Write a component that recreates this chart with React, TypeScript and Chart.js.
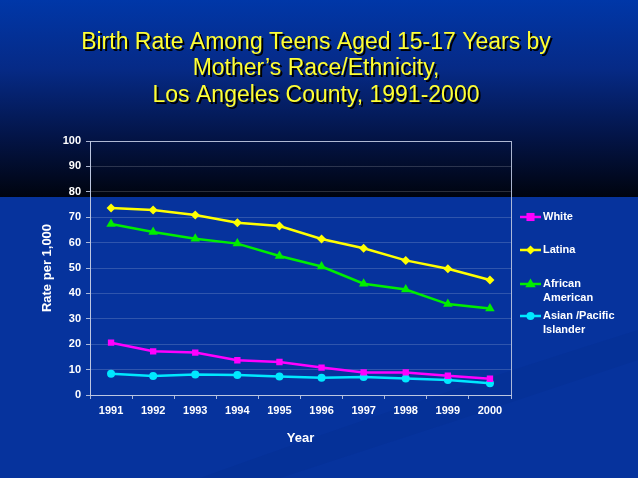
import { useEffect, useRef } from "react";
import { Chart, registerables } from "chart.js";

Chart.register(...registerables);

const years = ["1991", "1992", "1993", "1994", "1995", "1996", "1997", "1998", "1999", "2000"];
const whiteRates = [20.6, 17.2, 16.7, 13.7, 13.0, 10.8, 8.9, 8.9, 7.6, 6.4];
const latinaRates = [73.6, 72.8, 70.9, 67.8, 66.5, 61.4, 57.8, 53.0, 49.7, 45.3];
const africanAmericanRates = [67.3, 64.2, 61.5, 59.6, 54.7, 50.6, 43.8, 41.5, 35.8, 34.1];
const asianRates = [8.4, 7.5, 8.1, 7.9, 7.3, 6.8, 7.1, 6.5, 5.9, 4.6];

const titleLines = [
  "Birth Rate Among Teens Aged 15-17 Years by",
  "Mother\u2019s Race/Ethnicity,",
  "Los Angeles County, 1991-2000",
];
const legendLabels = [["White"], ["Latina"], ["African", "American"], ["Asian /Pacific", "Islander"]];

const FONT = "'Liberation Sans', Arial, Helvetica, sans-serif";
const AXIS = "rgba(190,200,225,0.9)";

const bgPlugin = {
  id: "bg",
  beforeDraw(chart: any) {
    const { ctx, width, height } = chart;
    ctx.save();
    const split = 197;
    const g = ctx.createLinearGradient(0, 0, 0, split);
    g.addColorStop(0, "#0037a8");
    g.addColorStop(0.35, "#062a86");
    g.addColorStop(0.7, "#031446");
    g.addColorStop(1, "#00040f");
    ctx.fillStyle = g;
    ctx.fillRect(0, 0, width, split);
    ctx.fillStyle = "#06339d";
    ctx.fillRect(0, split, width, height - split);
    // faint swoosh
    ctx.beginPath();
    ctx.moveTo(200, height);
    ctx.quadraticCurveTo(430, 395, width, 330);
    ctx.lineTo(width, 360);
    ctx.quadraticCurveTo(460, 420, 280, height);
    ctx.closePath();
    ctx.fillStyle = "rgba(0,25,100,0.08)";
    ctx.fill();
    ctx.restore();
  },
  beforeDatasetsDraw(chart: any) {
    const { ctx, chartArea } = chart;
    ctx.save();
    ctx.strokeStyle = AXIS;
    ctx.lineWidth = 1;
    ctx.strokeRect(
      Math.round(chartArea.left) + 0.5,
      Math.round(chartArea.top) + 0.5,
      Math.round(chartArea.right - chartArea.left),
      Math.round(chartArea.bottom - chartArea.top)
    );
    ctx.restore();
  },
  afterDraw(chart: any) {
    const { ctx } = chart;
    ctx.save();
    // Title
    ctx.font = `23px ${FONT}`;
    ctx.textAlign = "center";
    ctx.textBaseline = "middle";
    const ys = [43, 69, 96];
    titleLines.forEach((t, i) => {
      ctx.fillStyle = "#000000";
      ctx.fillText(t, 316 + 2, ys[i] + 2);
      ctx.fillStyle = "#ffff33";
      ctx.fillText(t, 316, ys[i]);
    });
    // Legend
    const legendY = [217, 250, 284, 316];
    chart.data.datasets.forEach((ds: any, i: number) => {
      const y = legendY[i];
      ctx.strokeStyle = ds.borderColor;
      ctx.lineWidth = 2.5;
      ctx.beginPath();
      ctx.moveTo(520, y);
      ctx.lineTo(541, y);
      ctx.stroke();
      drawMarker(ctx, ds.pointStyle, 530.5, y, ds.pointRadius, ds.borderColor);
      ctx.fillStyle = "#ffffff";
      ctx.font = `bold 11px ${FONT}`;
      ctx.textAlign = "left";
      ctx.textBaseline = "middle";
      legendLabels[i].forEach((l, j) => ctx.fillText(l, 543, y + j * 13.5));
    });
    ctx.restore();
  },
};

function drawMarker(ctx: CanvasRenderingContext2D, style: string, x: number, y: number, r: number, color: string) {
  ctx.fillStyle = color;
  ctx.beginPath();
  if (style === "rect") {
    ctx.rect(x - r * 0.9, y - r * 0.9, r * 1.8, r * 1.8);
  } else if (style === "rectRot") {
    ctx.moveTo(x, y - r);
    ctx.lineTo(x + r, y);
    ctx.lineTo(x, y + r);
    ctx.lineTo(x - r, y);
    ctx.closePath();
  } else if (style === "triangle") {
    ctx.moveTo(x, y - r);
    ctx.lineTo(x + r * 0.95, y + r * 0.6);
    ctx.lineTo(x - r * 0.95, y + r * 0.6);
    ctx.closePath();
  } else {
    ctx.arc(x, y, r, 0, Math.PI * 2);
  }
  ctx.fill();
}

export default function App() {
  const ref = useRef<HTMLCanvasElement | null>(null);
  useEffect(() => {
    if (!ref.current) return;
    const mk = (label: string, data: number[], color: string, pointStyle: string, r: number) => ({
      label,
      data,
      borderColor: color,
      backgroundColor: color,
      pointBackgroundColor: color,
      pointBorderColor: color,
      pointStyle,
      pointRadius: r,
      pointBorderWidth: 0,
      borderWidth: 2.5,
      tension: 0,
    });
    const chart = new Chart(ref.current, {
      type: "line",
      data: {
        labels: years,
        datasets: [
          mk("White", whiteRates, "#ff00ff", "rect", 4.5),
          mk("Latina", latinaRates, "#ffff00", "rectRot", 4.5),
          mk("African American", africanAmericanRates, "#00ee00", "triangle", 5.5),
          mk("Asian /Pacific Islander", asianRates, "#00e8ff", "circle", 4),
        ] as any,
      },
      options: {
        animation: false,
        responsive: true,
        maintainAspectRatio: false,
        devicePixelRatio: 1,
        layout: { padding: { left: 0, right: 127, top: 141, bottom: 0 } },
        plugins: { legend: { display: false }, title: { display: false }, tooltip: { enabled: false } },
        scales: {
          x: {
            type: "category",
            offset: true,
            grid: { display: true, drawOnChartArea: false, drawTicks: true, tickLength: 4, offset: true, color: AXIS },
            border: { color: AXIS, width: 1 },
            ticks: { color: "#ffffff", font: { family: FONT, size: 11, weight: "bold" }, padding: 5, maxRotation: 0 },
            title: {
              display: true,
              text: "Year",
              color: "#ffffff",
              font: { family: FONT, size: 13, weight: "bold" },
              padding: { top: 0, bottom: 32 },
            },
            afterFit: (s: any) => {
              s.height = 83;
            },
          },
          y: {
            min: 0,
            max: 100,
            ticks: { stepSize: 10, color: "#ffffff", font: { family: FONT, size: 11, weight: "bold" }, padding: 5 },
            grid: { color: "rgba(255,255,255,0.17)", tickColor: AXIS, tickLength: 4 },
            border: { color: AXIS, width: 1 },
            title: {
              display: true,
              text: "Rate per 1,000",
              color: "#ffffff",
              font: { family: FONT, size: 13, weight: "bold" },
              padding: { top: 40, bottom: 0 },
            },
            afterFit: (s: any) => {
              s.width = 90;
            },
          },
        },
      } as any,
      plugins: [bgPlugin],
    });
    return () => chart.destroy();
  }, []);
  return (
    <div style={{ position: "fixed", left: 0, top: 0, width: 638, height: 478 }}>
      <canvas ref={ref} />
    </div>
  );
}
